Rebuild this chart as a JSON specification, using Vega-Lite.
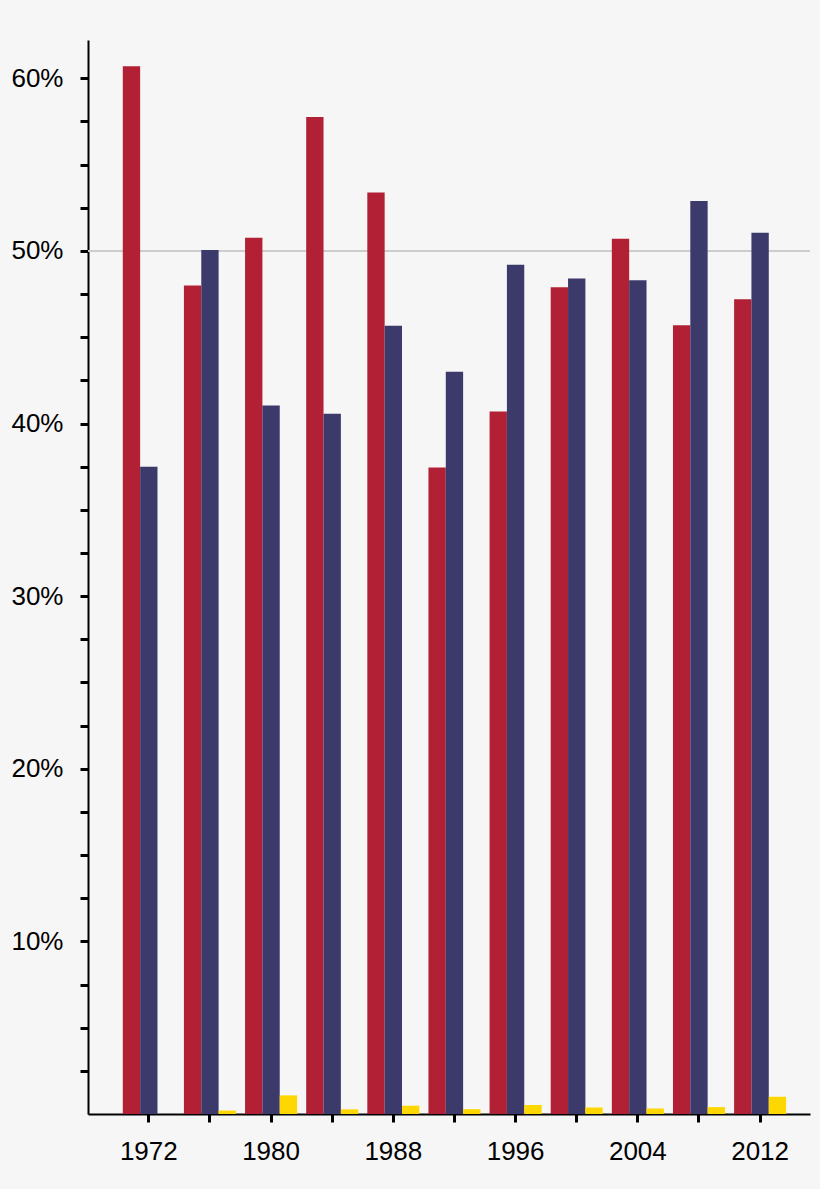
{
  "$schema": "https://vega.github.io/schema/vega-lite/v6.json",
  "width": 722,
  "height": 1074,
  "autosize": "none",
  "padding": {"left": 88, "top": 40, "right": 10, "bottom": 75},
  "background": "#f6f6f6",
  "config": {
    "view": {"stroke": null},
    "font": "Liberation Sans"
  },
  "data": {
    "values": [
      {"year": 1972, "party": "R", "pct": 0.607},
      {"year": 1972, "party": "D", "pct": 0.375},
      {"year": 1972, "party": "L", "pct": 0.0},
      {"year": 1976, "party": "R", "pct": 0.480},
      {"year": 1976, "party": "D", "pct": 0.5005},
      {"year": 1976, "party": "L", "pct": 0.002},
      {"year": 1980, "party": "R", "pct": 0.5077},
      {"year": 1980, "party": "D", "pct": 0.4104},
      {"year": 1980, "party": "L", "pct": 0.0108},
      {"year": 1984, "party": "R", "pct": 0.5776},
      {"year": 1984, "party": "D", "pct": 0.4057},
      {"year": 1984, "party": "L", "pct": 0.0027},
      {"year": 1988, "party": "R", "pct": 0.5338},
      {"year": 1988, "party": "D", "pct": 0.4567},
      {"year": 1988, "party": "L", "pct": 0.0048},
      {"year": 1992, "party": "R", "pct": 0.3746},
      {"year": 1992, "party": "D", "pct": 0.430},
      {"year": 1992, "party": "L", "pct": 0.0028},
      {"year": 1996, "party": "R", "pct": 0.407},
      {"year": 1996, "party": "D", "pct": 0.492},
      {"year": 1996, "party": "L", "pct": 0.0052},
      {"year": 2000, "party": "R", "pct": 0.479},
      {"year": 2000, "party": "D", "pct": 0.484},
      {"year": 2000, "party": "L", "pct": 0.0038},
      {"year": 2004, "party": "R", "pct": 0.507},
      {"year": 2004, "party": "D", "pct": 0.483},
      {"year": 2004, "party": "L", "pct": 0.0032},
      {"year": 2008, "party": "R", "pct": 0.457},
      {"year": 2008, "party": "D", "pct": 0.529},
      {"year": 2008, "party": "L", "pct": 0.004},
      {"year": 2012, "party": "R", "pct": 0.472},
      {"year": 2012, "party": "D", "pct": 0.5106},
      {"year": 2012, "party": "L", "pct": 0.010}
    ]
  },
  "layer": [
    {
      "mark": {"type": "rule", "color": "#cccccc", "strokeWidth": 1.5},
      "encoding": {
        "y": {"datum": 0.5, "type": "quantitative"}
      }
    },
    {
      "mark": {"type": "bar"},
      "encoding": {
        "x": {
          "field": "year",
          "type": "ordinal",
          "scale": {"paddingInner": 0.149, "paddingOuter": 0.48, "align": 0.593},
          "axis": {
            "title": null,
            "labelAngle": 0,
            "labelExpr": "(+datum.value - 1972) % 8 == 0 ? datum.label : ''",
            "labelFontSize": 26,
            "labelColor": "black",
            "labelPadding": 16,
            "tickSize": 8,
            "tickWidth": 3,
            "tickColor": "black",
            "domainColor": "black",
            "domainWidth": 2,
            "grid": false
          }
        },
        "xOffset": {
          "field": "party",
          "sort": ["R", "D", "L"],
          "scale": {"paddingInner": 0, "paddingOuter": 0}
        },
        "y": {
          "field": "pct",
          "type": "quantitative",
          "scale": {"domain": [0, 0.6222], "nice": false},
          "axis": {
            "title": null,
            "values": [0.025, 0.05, 0.075, 0.1, 0.125, 0.15, 0.175, 0.2, 0.225, 0.25, 0.275, 0.3, 0.325, 0.35, 0.375, 0.4, 0.425, 0.45, 0.475, 0.5, 0.525, 0.55, 0.575, 0.6],
            "labelExpr": "round(datum.value * 1000) % 100 == 0 ? format(datum.value, '.0%') : ''",
            "labelFontSize": 26,
            "labelColor": "black",
            "labelPadding": 17,
            "tickSize": 8,
            "tickWidth": 3,
            "tickColor": "black",
            "domainColor": "black",
            "domainWidth": 2,
            "grid": false
          }
        },
        "color": {
          "field": "party",
          "type": "nominal",
          "scale": {"domain": ["R", "D", "L"], "range": ["#b12035", "#3b3a6b", "#ffd700"]},
          "legend": null
        }
      }
    }
  ]
}
